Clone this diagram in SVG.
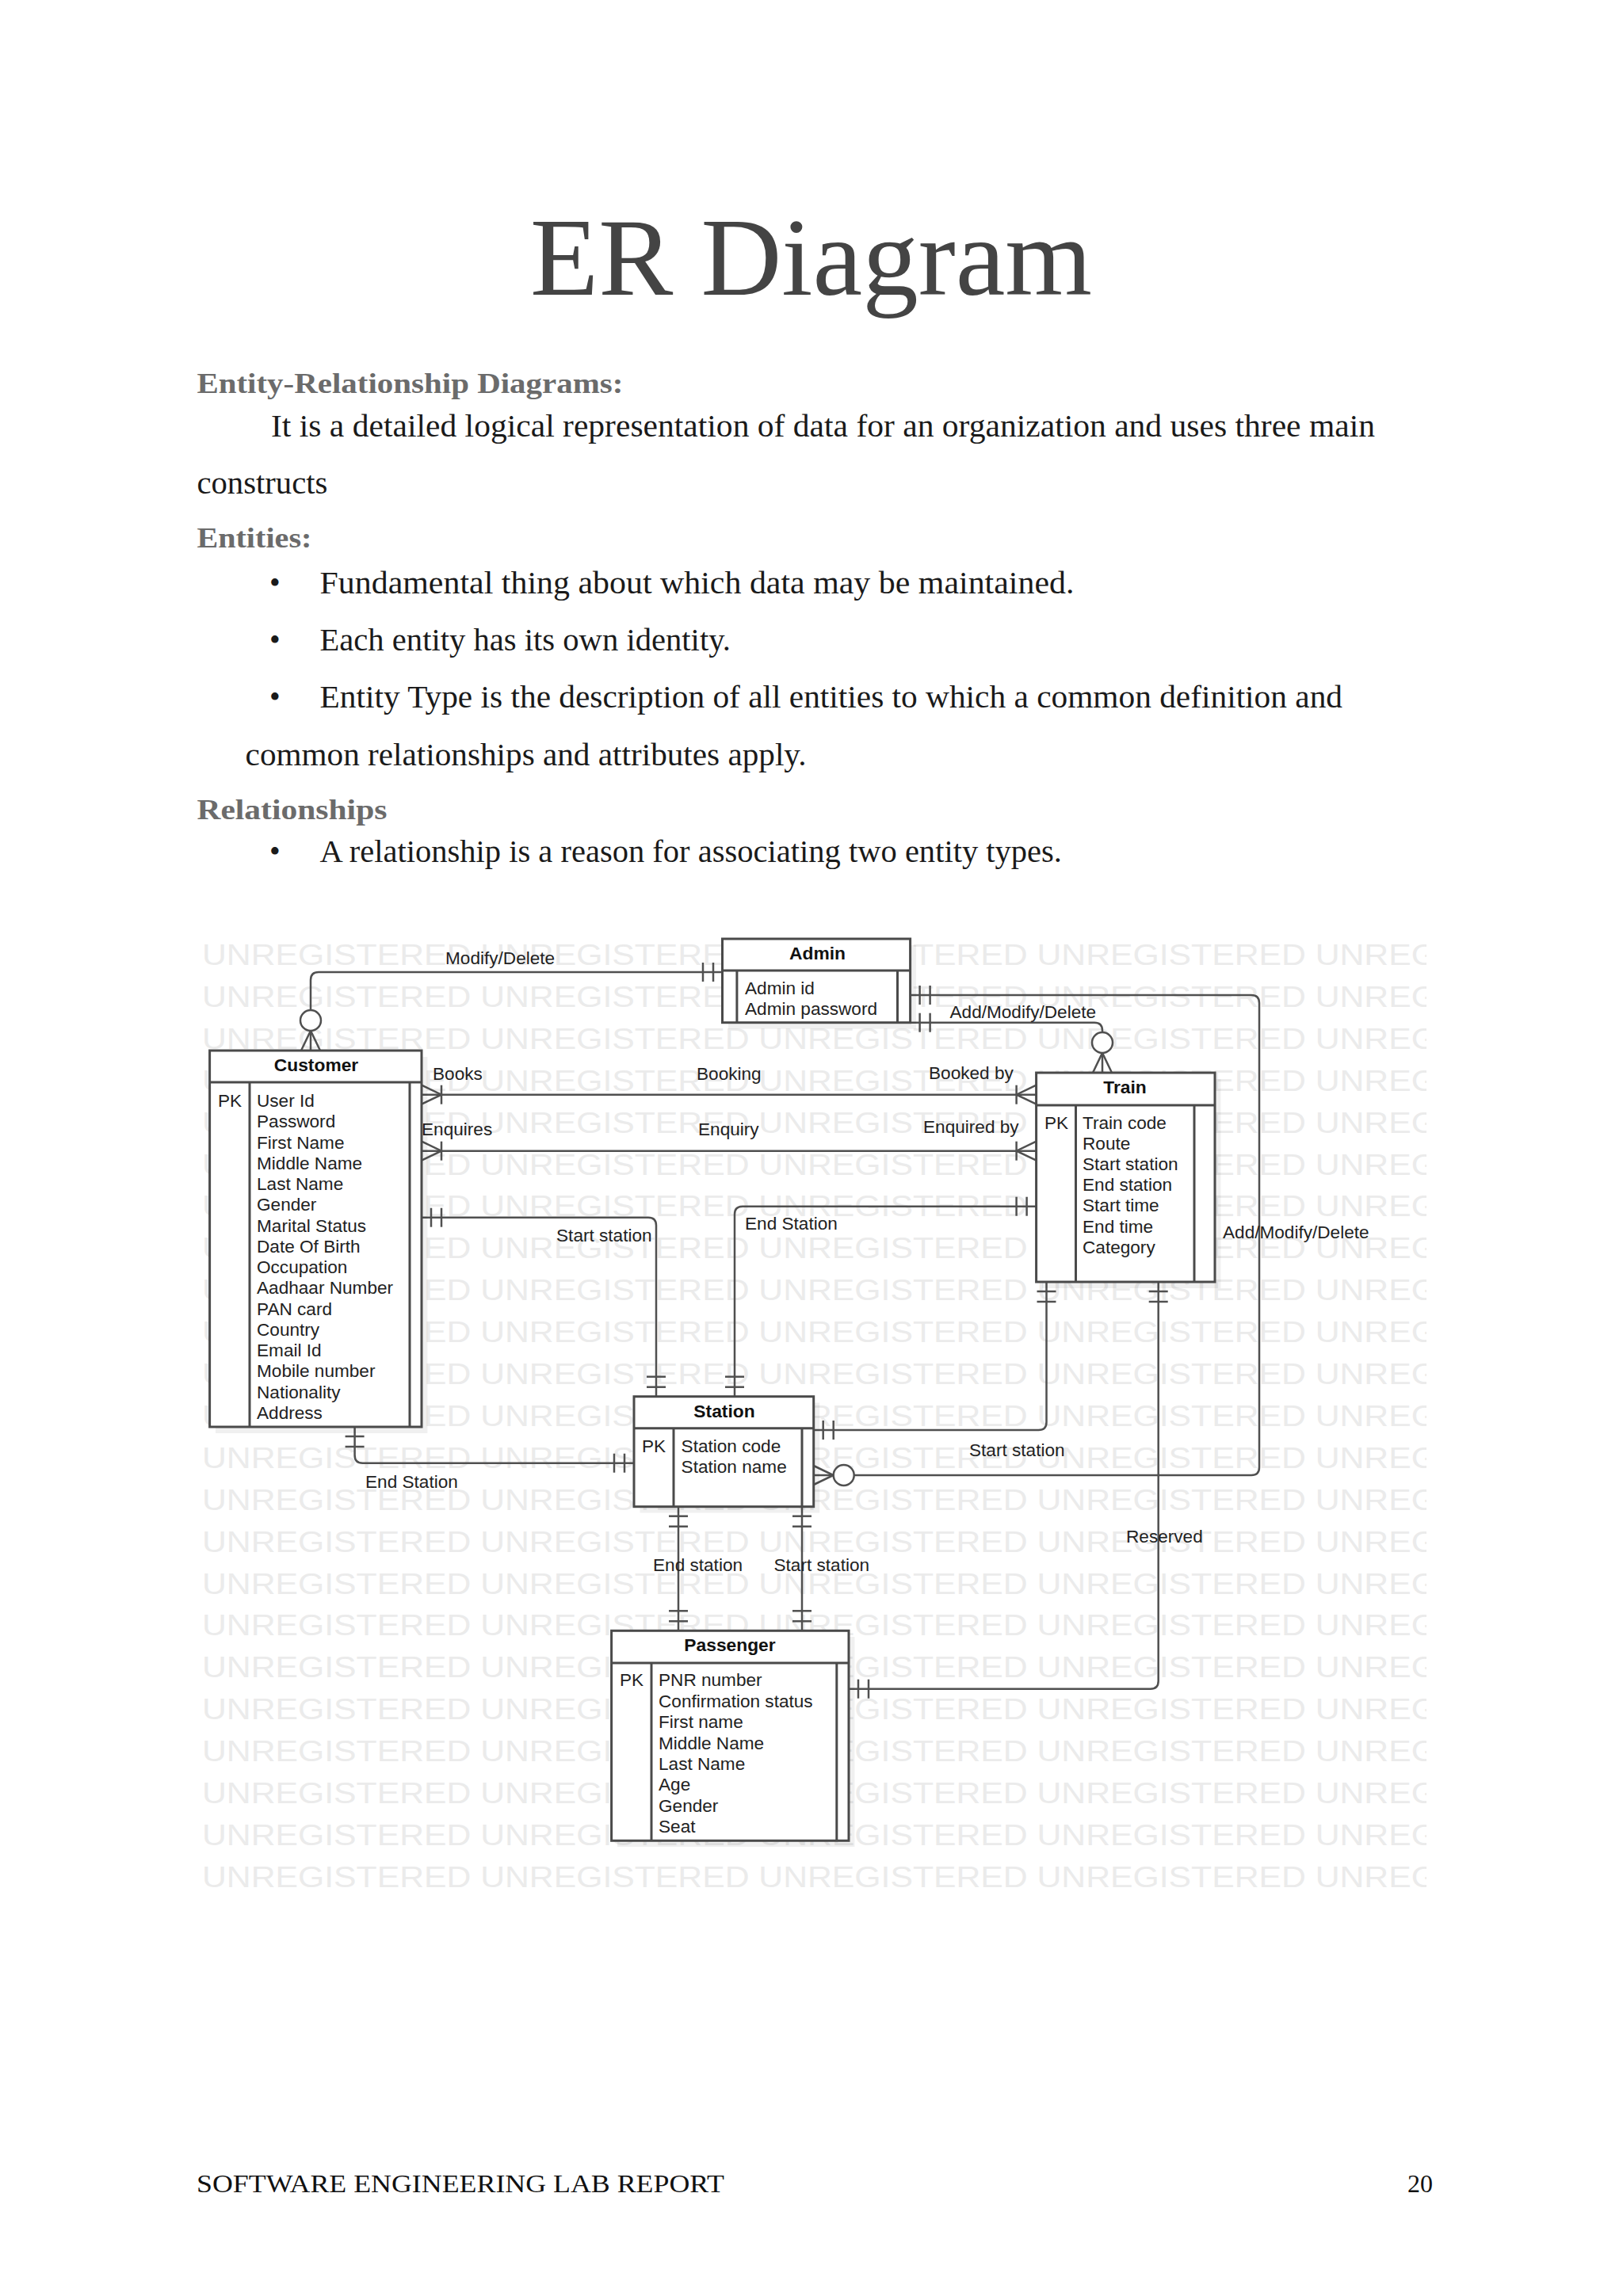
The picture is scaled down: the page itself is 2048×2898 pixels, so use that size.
<svg xmlns="http://www.w3.org/2000/svg" xmlns:xlink="http://www.w3.org/1999/xlink" width="2048" height="2898" viewBox="0 0 2048 2898">
<style>
.body{font-family:"Liberation Serif","Times New Roman",serif;font-size:39px;fill:#1a1a1a}
.head{font-family:"Liberation Serif","Times New Roman",serif;font-size:35px;font-weight:bold;fill:#6b6b6b}
.wm{font-family:"Liberation Sans",Arial,sans-serif;font-size:36px;fill:#ebebeb}
.t{font-family:"Liberation Sans",Arial,sans-serif;font-size:22.6px;fill:#222}
.th{font-family:"Liberation Sans",Arial,sans-serif;font-size:22.8px;font-weight:bold;fill:#111;text-anchor:middle}
.box{fill:#fff;stroke:#4a4a4a;stroke-width:3}
.ln{stroke:#4a4a4a;stroke-width:3;fill:none}
.sh{fill:#000;opacity:0.06}
.cn{stroke:#505050;stroke-width:2.5;fill:none}
.mk{stroke:#505050;stroke-width:2.5;fill:none}
</style>
<defs>
<clipPath id="wmclip"><rect x="250" y="1180" width="1550" height="1230"/></clipPath>
<g id="one" class="mk"><line x1="12" y1="-12" x2="12" y2="12"/><line x1="25" y1="-12" x2="25" y2="12"/></g>
<g id="onemany" class="mk"><path d="M0 -12 L25 0 L0 12"/><line x1="25" y1="-12" x2="25" y2="12"/></g>
<g id="zeromany" class="mk"><path d="M0 -12 L25 0 L0 12"/><circle cx="38" cy="0" r="13" fill="#fff"/></g>
</defs>
<rect width="2048" height="2898" fill="#fff"/>

<!-- page text -->
<text x="669" y="372" font-family="Liberation Serif, Times New Roman, serif" font-size="140" fill="#444" textLength="709" lengthAdjust="spacingAndGlyphs">ER Diagram</text>
<text class="head" x="248.4" y="496" textLength="538" lengthAdjust="spacingAndGlyphs">Entity-Relationship Diagrams:</text>
<text class="body" x="342" y="551" textLength="1393" lengthAdjust="spacingAndGlyphs">It is a detailed logical representation of data for an organization and uses three main</text>
<text class="body" x="248.4" y="623" textLength="165" lengthAdjust="spacingAndGlyphs">constructs</text>
<text class="head" x="248.4" y="691" textLength="145" lengthAdjust="spacingAndGlyphs">Entities:</text>
<text class="body" x="340" y="749">•</text>
<text class="body" x="403.5" y="749" textLength="952" lengthAdjust="spacingAndGlyphs">Fundamental thing about which data may be maintained.</text>
<text class="body" x="340" y="821">•</text>
<text class="body" x="403.5" y="821" textLength="518.5" lengthAdjust="spacingAndGlyphs">Each entity has its own identity.</text>
<text class="body" x="340" y="893">•</text>
<text class="body" x="403.5" y="893" textLength="1290.5" lengthAdjust="spacingAndGlyphs">Entity Type is the description of all entities to which a common definition and</text>
<text class="body" x="309.6" y="966" textLength="708" lengthAdjust="spacingAndGlyphs">common relationships and attributes apply.</text>
<text class="head" x="248.4" y="1034" textLength="240" lengthAdjust="spacingAndGlyphs">Relationships</text>
<text class="body" x="340" y="1088">•</text>
<text class="body" x="403.5" y="1088" textLength="936.5" lengthAdjust="spacingAndGlyphs">A relationship is a reason for associating two entity types.</text>

<!-- watermark -->
<g id="watermark" clip-path="url(#wmclip)">
<text class="wm" x="255" y="1218" textLength="1744" lengthAdjust="spacingAndGlyphs">UNREGISTERED UNREGISTERED UNREGISTERED UNREGISTERED UNREGISTERED</text>
<text class="wm" x="255" y="1270.9" textLength="1744" lengthAdjust="spacingAndGlyphs">UNREGISTERED UNREGISTERED UNREGISTERED UNREGISTERED UNREGISTERED</text>
<text class="wm" x="255" y="1323.8" textLength="1744" lengthAdjust="spacingAndGlyphs">UNREGISTERED UNREGISTERED UNREGISTERED UNREGISTERED UNREGISTERED</text>
<text class="wm" x="255" y="1376.7" textLength="1744" lengthAdjust="spacingAndGlyphs">UNREGISTERED UNREGISTERED UNREGISTERED UNREGISTERED UNREGISTERED</text>
<text class="wm" x="255" y="1429.6" textLength="1744" lengthAdjust="spacingAndGlyphs">UNREGISTERED UNREGISTERED UNREGISTERED UNREGISTERED UNREGISTERED</text>
<text class="wm" x="255" y="1482.5" textLength="1744" lengthAdjust="spacingAndGlyphs">UNREGISTERED UNREGISTERED UNREGISTERED UNREGISTERED UNREGISTERED</text>
<text class="wm" x="255" y="1535.4" textLength="1744" lengthAdjust="spacingAndGlyphs">UNREGISTERED UNREGISTERED UNREGISTERED UNREGISTERED UNREGISTERED</text>
<text class="wm" x="255" y="1588.3" textLength="1744" lengthAdjust="spacingAndGlyphs">UNREGISTERED UNREGISTERED UNREGISTERED UNREGISTERED UNREGISTERED</text>
<text class="wm" x="255" y="1641.2" textLength="1744" lengthAdjust="spacingAndGlyphs">UNREGISTERED UNREGISTERED UNREGISTERED UNREGISTERED UNREGISTERED</text>
<text class="wm" x="255" y="1694.1" textLength="1744" lengthAdjust="spacingAndGlyphs">UNREGISTERED UNREGISTERED UNREGISTERED UNREGISTERED UNREGISTERED</text>
<text class="wm" x="255" y="1747" textLength="1744" lengthAdjust="spacingAndGlyphs">UNREGISTERED UNREGISTERED UNREGISTERED UNREGISTERED UNREGISTERED</text>
<text class="wm" x="255" y="1799.9" textLength="1744" lengthAdjust="spacingAndGlyphs">UNREGISTERED UNREGISTERED UNREGISTERED UNREGISTERED UNREGISTERED</text>
<text class="wm" x="255" y="1852.8" textLength="1744" lengthAdjust="spacingAndGlyphs">UNREGISTERED UNREGISTERED UNREGISTERED UNREGISTERED UNREGISTERED</text>
<text class="wm" x="255" y="1905.7" textLength="1744" lengthAdjust="spacingAndGlyphs">UNREGISTERED UNREGISTERED UNREGISTERED UNREGISTERED UNREGISTERED</text>
<text class="wm" x="255" y="1958.6" textLength="1744" lengthAdjust="spacingAndGlyphs">UNREGISTERED UNREGISTERED UNREGISTERED UNREGISTERED UNREGISTERED</text>
<text class="wm" x="255" y="2011.5" textLength="1744" lengthAdjust="spacingAndGlyphs">UNREGISTERED UNREGISTERED UNREGISTERED UNREGISTERED UNREGISTERED</text>
<text class="wm" x="255" y="2064.4" textLength="1744" lengthAdjust="spacingAndGlyphs">UNREGISTERED UNREGISTERED UNREGISTERED UNREGISTERED UNREGISTERED</text>
<text class="wm" x="255" y="2117.3" textLength="1744" lengthAdjust="spacingAndGlyphs">UNREGISTERED UNREGISTERED UNREGISTERED UNREGISTERED UNREGISTERED</text>
<text class="wm" x="255" y="2170.2" textLength="1744" lengthAdjust="spacingAndGlyphs">UNREGISTERED UNREGISTERED UNREGISTERED UNREGISTERED UNREGISTERED</text>
<text class="wm" x="255" y="2223.1" textLength="1744" lengthAdjust="spacingAndGlyphs">UNREGISTERED UNREGISTERED UNREGISTERED UNREGISTERED UNREGISTERED</text>
<text class="wm" x="255" y="2276" textLength="1744" lengthAdjust="spacingAndGlyphs">UNREGISTERED UNREGISTERED UNREGISTERED UNREGISTERED UNREGISTERED</text>
<text class="wm" x="255" y="2328.9" textLength="1744" lengthAdjust="spacingAndGlyphs">UNREGISTERED UNREGISTERED UNREGISTERED UNREGISTERED UNREGISTERED</text>
<text class="wm" x="255" y="2381.8" textLength="1744" lengthAdjust="spacingAndGlyphs">UNREGISTERED UNREGISTERED UNREGISTERED UNREGISTERED UNREGISTERED</text>
</g>

<!-- connectors -->
<g id="connectors">
<path class="cn" d="M392 1326 V1237 Q392 1227 402 1227 H912"/>
<path class="cn" d="M1148.6 1290.7 H1381 Q1391 1290.7 1391 1300.7 V1354"/>
<path class="cn" d="M1148.6 1256 H1579 Q1589 1256 1589 1266 V1852 Q1589 1862 1579 1862 H1026.7"/>
<path class="cn" d="M532 1381.7 H1307.6"/>
<path class="cn" d="M532 1452.7 H1307.6"/>
<path class="cn" d="M532 1536.7 H818 Q828 1536.7 828 1546.7 V1762.7"/>
<path class="cn" d="M1307.6 1522.7 H937 Q927 1522.7 927 1532.7 V1762.7"/>
<path class="cn" d="M447.6 1801 V1836.7 Q447.6 1846.7 457.6 1846.7 H800"/>
<path class="cn" d="M1026.7 1805 H1310.5 Q1320.5 1805 1320.5 1795 V1618"/>
<path class="cn" d="M856 1901.7 V2058.3"/>
<path class="cn" d="M1012 1901.7 V2058.3"/>
<path class="cn" d="M1461.7 1618 V2121.7 Q1461.7 2131.7 1451.7 2131.7 H1071"/>
<use xlink:href="#zeromany" transform="translate(392,1326) rotate(-90)"/>
<use xlink:href="#one" transform="translate(912,1227) rotate(180)"/>
<use xlink:href="#one" transform="translate(1148.6,1290.7)"/>
<use xlink:href="#zeromany" transform="translate(1391,1354) rotate(-90)"/>
<use xlink:href="#one" transform="translate(1148.6,1256)"/>
<use xlink:href="#zeromany" transform="translate(1026.7,1862)"/>
<use xlink:href="#onemany" transform="translate(532,1381.7)"/>
<use xlink:href="#onemany" transform="translate(1307.6,1381.7) rotate(180)"/>
<use xlink:href="#onemany" transform="translate(532,1452.7)"/>
<use xlink:href="#onemany" transform="translate(1307.6,1452.7) rotate(180)"/>
<use xlink:href="#one" transform="translate(532,1536.7)"/>
<use xlink:href="#one" transform="translate(828,1762.7) rotate(-90)"/>
<use xlink:href="#one" transform="translate(1307.6,1522.7) rotate(180)"/>
<use xlink:href="#one" transform="translate(927,1762.7) rotate(-90)"/>
<use xlink:href="#one" transform="translate(447.6,1801) rotate(90)"/>
<use xlink:href="#one" transform="translate(800,1846.7) rotate(180)"/>
<use xlink:href="#one" transform="translate(1026.7,1805)"/>
<use xlink:href="#one" transform="translate(1320.5,1618) rotate(90)"/>
<use xlink:href="#one" transform="translate(856,1901.7) rotate(90)"/>
<use xlink:href="#one" transform="translate(856,2058.3) rotate(-90)"/>
<use xlink:href="#one" transform="translate(1012,1901.7) rotate(90)"/>
<use xlink:href="#one" transform="translate(1012,2058.3) rotate(-90)"/>
<use xlink:href="#one" transform="translate(1461.7,1618) rotate(90)"/>
<use xlink:href="#one" transform="translate(1071,2131.7)"/>
<text class="t" x="562" y="1217">Modify/Delete</text>
<text class="t" x="546" y="1363">Books</text>
<text class="t" x="879" y="1363">Booking</text>
<text class="t" x="1172" y="1362">Booked by</text>
<text class="t" x="532" y="1433">Enquires</text>
<text class="t" x="881" y="1433">Enquiry</text>
<text class="t" x="1165" y="1430">Enquired by</text>
<text class="t" x="1198.5" y="1285">Add/Modify/Delete</text>
<text class="t" x="1543" y="1563">Add/Modify/Delete</text>
<text class="t" x="822.6" y="1567" text-anchor="end">Start station</text>
<text class="t" x="940" y="1552">End Station</text>
<text class="t" x="461" y="1878">End Station</text>
<text class="t" x="1223" y="1838">Start station</text>
<text class="t" x="1421" y="1947">Reserved</text>
<text class="t" x="824" y="1983">End station</text>
<text class="t" x="976.5" y="1983">Start station</text>
</g>

<!-- entities -->
<g id="customer">
<rect class="sh" x="272" y="1334" width="267.4" height="475"/>
<rect class="box" x="264.6" y="1326" width="267.4" height="475"/>
<line class="ln" x1="264.6" y1="1366" x2="532" y2="1366"/>
<line class="ln" x1="315" y1="1366" x2="315" y2="1801"/>
<line class="ln" x1="517" y1="1366" x2="517" y2="1801"/>
<text class="th" x="399" y="1352">Customer</text>
<text class="t" x="275" y="1397">PK</text>
<text class="t" x="324" y="1397">User Id</text>
<text class="t" x="324" y="1423.25">Password</text>
<text class="t" x="324" y="1449.5">First Name</text>
<text class="t" x="324" y="1475.75">Middle Name</text>
<text class="t" x="324" y="1502">Last Name</text>
<text class="t" x="324" y="1528.25">Gender</text>
<text class="t" x="324" y="1554.5">Marital Status</text>
<text class="t" x="324" y="1580.75">Date Of Birth</text>
<text class="t" x="324" y="1607">Occupation</text>
<text class="t" x="324" y="1633.25">Aadhaar Number</text>
<text class="t" x="324" y="1659.5">PAN card</text>
<text class="t" x="324" y="1685.75">Country</text>
<text class="t" x="324" y="1712">Email Id</text>
<text class="t" x="324" y="1738.25">Mobile number</text>
<text class="t" x="324" y="1764.5">Nationality</text>
<text class="t" x="324" y="1790.75">Address</text>
</g>

<g id="admin">
<rect class="sh" x="919" y="1193" width="237.1" height="105.7"/>
<rect class="box" x="911.5" y="1185" width="237.1" height="105.7"/>
<line class="ln" x1="911.5" y1="1225" x2="1148.6" y2="1225"/>
<line class="ln" x1="929.9" y1="1225" x2="929.9" y2="1290.7"/>
<line class="ln" x1="1132.5" y1="1225" x2="1132.5" y2="1290.7"/>
<text class="th" x="1031.5" y="1210.7">Admin</text>
<text class="t" x="940" y="1255">Admin id</text>
<text class="t" x="940" y="1280.7">Admin password</text>
</g>

<g id="train">
<rect class="sh" x="1315" y="1362" width="225.4" height="264"/>
<rect class="box" x="1307.6" y="1354" width="225.4" height="264"/>
<line class="ln" x1="1307.6" y1="1395" x2="1533" y2="1395"/>
<line class="ln" x1="1357.5" y1="1395" x2="1357.5" y2="1618"/>
<line class="ln" x1="1507" y1="1395" x2="1507" y2="1618"/>
<text class="th" x="1419.5" y="1380">Train</text>
<text class="t" x="1318" y="1425">PK</text>
<text class="t" x="1366" y="1425">Train code</text>
<text class="t" x="1366" y="1451.1">Route</text>
<text class="t" x="1366" y="1477.2">Start station</text>
<text class="t" x="1366" y="1503.3">End station</text>
<text class="t" x="1366" y="1529.4">Start time</text>
<text class="t" x="1366" y="1555.5">End time</text>
<text class="t" x="1366" y="1581.6">Category</text>
</g>

<g id="station">
<rect class="sh" x="807.5" y="1770.5" width="226.7" height="139"/>
<rect class="box" x="800" y="1762.7" width="226.7" height="139"/>
<line class="ln" x1="800" y1="1802.7" x2="1026.7" y2="1802.7"/>
<line class="ln" x1="850" y1="1802.7" x2="850" y2="1901.7"/>
<line class="ln" x1="1012" y1="1802.7" x2="1012" y2="1901.7"/>
<text class="th" x="914" y="1789">Station</text>
<text class="t" x="810" y="1833">PK</text>
<text class="t" x="859.6" y="1833">Station code</text>
<text class="t" x="859.6" y="1859">Station name</text>
</g>

<g id="passenger">
<rect class="sh" x="779" y="2066" width="299.4" height="265"/>
<rect class="box" x="771.6" y="2058.3" width="299.4" height="265"/>
<line class="ln" x1="771.6" y1="2099" x2="1071" y2="2099"/>
<line class="ln" x1="822" y1="2099" x2="822" y2="2323.3"/>
<line class="ln" x1="1055.8" y1="2099" x2="1055.8" y2="2323.3"/>
<text class="th" x="921" y="2084">Passenger</text>
<text class="t" x="782" y="2128.3">PK</text>
<text class="t" x="831" y="2128.3">PNR number</text>
<text class="t" x="831" y="2154.7">Confirmation status</text>
<text class="t" x="831" y="2181.1">First name</text>
<text class="t" x="831" y="2207.6">Middle Name</text>
<text class="t" x="831" y="2234">Last Name</text>
<text class="t" x="831" y="2260.4">Age</text>
<text class="t" x="831" y="2286.9">Gender</text>
<text class="t" x="831" y="2313.3">Seat</text>
</g>

<!-- footer -->
<text x="248" y="2767" font-family="Liberation Serif, Times New Roman, serif" font-size="32" fill="#111" textLength="666" lengthAdjust="spacingAndGlyphs">SOFTWARE ENGINEERING LAB REPORT</text>
<text x="1808" y="2767" font-family="Liberation Serif, Times New Roman, serif" font-size="32" fill="#111" text-anchor="end">20</text>
</svg>
